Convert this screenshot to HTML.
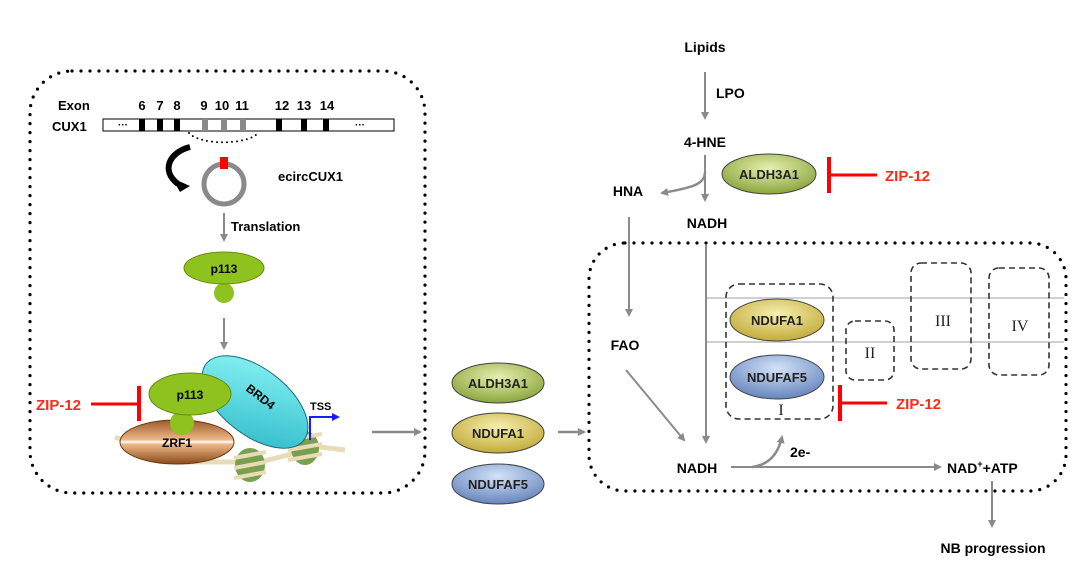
<!DOCTYPE html>
<html><head><meta charset="utf-8"><style>
html,body{margin:0;padding:0;background:#fff;}
svg{display:block;font-family:"Liberation Sans",Arial,sans-serif;font-weight:bold;}
</style></head><body>
<svg width="1080" height="562" viewBox="0 0 1080 562" xmlns="http://www.w3.org/2000/svg">
<defs>
<marker id="ag" markerWidth="8" markerHeight="8" refX="6" refY="4" orient="auto" markerUnits="userSpaceOnUse"><path d="M0,0 L8,4 L0,8 z" fill="#8a8a8a"/></marker>
<marker id="ab" markerWidth="8" markerHeight="8" refX="6" refY="4" orient="auto" markerUnits="userSpaceOnUse"><path d="M0,0 L8,4 L0,8 z" fill="#1a1aff"/></marker>
<radialGradient id="gGreen" cx="50%" cy="35%" r="65%"><stop offset="0" stop-color="#e6efb0"/><stop offset="1" stop-color="#8aa53c"/></radialGradient>
<radialGradient id="gYel" cx="50%" cy="35%" r="65%"><stop offset="0" stop-color="#f6efb0"/><stop offset="1" stop-color="#c2ab3a"/></radialGradient>
<radialGradient id="gBlue" cx="50%" cy="30%" r="70%"><stop offset="0" stop-color="#d2e2f8"/><stop offset="1" stop-color="#6685bd"/></radialGradient>
<linearGradient id="gBrd" x1="0" y1="0" x2="1" y2="1"><stop offset="0" stop-color="#8ff7f7"/><stop offset="1" stop-color="#2ab8c8"/></linearGradient>
<linearGradient id="gZrf" x1="0" y1="0" x2="0" y2="1"><stop offset="0" stop-color="#9a5a2a"/><stop offset="0.45" stop-color="#f0b888"/><stop offset="0.5" stop-color="#fff"/><stop offset="0.55" stop-color="#f0b888"/><stop offset="1" stop-color="#8a4a1a"/></linearGradient>
</defs>

<rect x="30" y="71" width="395" height="422" rx="42" fill="none" stroke="#000" stroke-width="3.2" stroke-linecap="round" stroke-dasharray="0 9"/>

<text x="58" y="110" font-size="13">Exon</text>
<text x="52" y="131" font-size="13">CUX1</text>
<g font-size="13" text-anchor="middle">
<text x="142" y="110">6</text><text x="160" y="110">7</text><text x="177" y="110">8</text>
<text x="204" y="110">9</text><text x="222" y="110">10</text><text x="242" y="110">11</text>
<text x="282" y="110">12</text><text x="304" y="110">13</text><text x="327" y="110">14</text>
</g>
<rect x="103" y="119" width="291" height="12" fill="#fff" stroke="#000" stroke-width="1"/>
<g fill="#000"><rect x="139" y="119" width="6" height="12"/><rect x="157" y="119" width="6" height="12"/><rect x="174" y="119" width="6" height="12"/><rect x="276" y="119" width="6" height="12"/><rect x="301" y="119" width="6" height="12"/><rect x="323" y="119" width="6" height="12"/></g>
<g fill="#8a8a8a"><rect x="202" y="119" width="6" height="12"/><rect x="221" y="119" width="6" height="12"/><rect x="240" y="119" width="6" height="12"/></g>
<text x="118" y="128" font-size="10">···</text><text x="355" y="128" font-size="10">···</text>
<path d="M189,133 A36,13 0 0 0 258,133" fill="none" stroke="#000" stroke-width="2" stroke-linecap="round" stroke-dasharray="0 5"/>
<path d="M190,147 C170,152 160,170 178,184" fill="none" stroke="#000" stroke-width="6"/>
<path d="M172,178 L190,186 L180,192 z" fill="#000"/>
<circle cx="224" cy="184" r="20" fill="none" stroke="#8a8a8a" stroke-width="5"/>
<rect x="220" y="157" width="8" height="12" fill="#ff0000"/>
<text x="278" y="181" font-size="13">ecircCUX1</text>
<line x1="224" y1="213" x2="224" y2="240" stroke="#8a8a8a" stroke-width="2" marker-end="url(#ag)"/>
<text x="231" y="231" font-size="13">Translation</text>
<circle cx="224" cy="293" r="10" fill="#8dc21f"/>
<ellipse cx="224" cy="268" rx="40" ry="16" fill="#8dc21f" stroke="#6a8a10" stroke-width="1"/>
<text x="224" y="273" font-size="12" text-anchor="middle">p113</text>
<line x1="224" y1="318" x2="224" y2="348" stroke="#8a8a8a" stroke-width="2" marker-end="url(#ag)"/>

<path d="M115,437 C140,445 150,462 180,462 L260,462 L320,447 L345,450" fill="none" stroke="#e8dcb8" stroke-width="5"/>
<ellipse cx="250" cy="465" rx="15" ry="17" fill="#79a04f"/>
<ellipse cx="305" cy="448" rx="14" ry="17" fill="#79a04f"/>
<g stroke="#e8dcb8" stroke-width="4"><line x1="234" y1="458" x2="266" y2="452"/><line x1="234" y1="468" x2="266" y2="462"/><line x1="234" y1="478" x2="266" y2="472"/><line x1="288" y1="440" x2="322" y2="434"/><line x1="288" y1="450" x2="322" y2="444"/><line x1="288" y1="460" x2="322" y2="454"/></g>
<ellipse cx="177" cy="442" rx="57" ry="22" fill="url(#gZrf)" stroke="#6a3a10" stroke-width="1"/>
<text x="177" y="447" font-size="12" text-anchor="middle">ZRF1</text>
<ellipse cx="255" cy="402" rx="62" ry="33" transform="rotate(38 255 402)" fill="url(#gBrd)" stroke="#1a6a7a" stroke-width="1"/>
<text x="258" y="400" font-size="12" text-anchor="middle" transform="rotate(38 258 400)">BRD4</text>
<circle cx="182" cy="423" r="12" fill="#8dc21f"/>
<ellipse cx="190" cy="394" rx="41" ry="21" fill="#8dc21f" stroke="#6a8a10" stroke-width="1"/>
<text x="190" y="399" font-size="12" text-anchor="middle">p113</text>
<path d="M310,440 L310,417 L338,417" fill="none" stroke="#1a1aff" stroke-width="2" marker-end="url(#ab)"/>
<text x="310" y="410" font-size="11">TSS</text>
<text x="36" y="410" font-size="15" fill="#ff2a1a">ZIP-12</text>
<line x1="91" y1="404" x2="139" y2="404" stroke="#ff0000" stroke-width="3"/>
<line x1="139" y1="386" x2="139" y2="421" stroke="#ff0000" stroke-width="4"/>

<line x1="372" y1="432" x2="420" y2="432" stroke="#8a8a8a" stroke-width="2.5" marker-end="url(#ag)"/>

<ellipse cx="498" cy="383" rx="46" ry="20" fill="url(#gGreen)" stroke="#444" stroke-width="1"/>
<text x="498" y="388" font-size="13" text-anchor="middle" fill="#222">ALDH3A1</text>
<ellipse cx="498" cy="433" rx="46" ry="20" fill="url(#gYel)" stroke="#444" stroke-width="1"/>
<text x="498" y="438" font-size="13" text-anchor="middle" fill="#222">NDUFA1</text>
<ellipse cx="498" cy="484" rx="46" ry="20" fill="url(#gBlue)" stroke="#444" stroke-width="1"/>
<text x="498" y="489" font-size="13" text-anchor="middle" fill="#222">NDUFAF5</text>
<line x1="558" y1="432" x2="584" y2="432" stroke="#8a8a8a" stroke-width="2.5" marker-end="url(#ag)"/>

<rect x="589" y="243" width="477" height="248" rx="36" fill="none" stroke="#000" stroke-width="3.2" stroke-linecap="round" stroke-dasharray="0 9"/>

<text x="705" y="52" font-size="14" text-anchor="middle">Lipids</text>
<line x1="705" y1="72" x2="705" y2="118" stroke="#8a8a8a" stroke-width="2" marker-end="url(#ag)"/>
<text x="716" y="98" font-size="14">LPO</text>
<text x="705" y="147" font-size="14" text-anchor="middle">4-HNE</text>
<line x1="705" y1="155" x2="705" y2="200" stroke="#8a8a8a" stroke-width="2" marker-end="url(#ag)"/>
<path d="M705,172 C705,185 690,188 662,193" fill="none" stroke="#8a8a8a" stroke-width="2.5" marker-end="url(#ag)"/>
<text x="628" y="196" font-size="14" text-anchor="middle">HNA</text>
<text x="707" y="228" font-size="14" text-anchor="middle">NADH</text>
<ellipse cx="769" cy="174" rx="47" ry="20" fill="url(#gGreen)" stroke="#444" stroke-width="1"/>
<text x="769" y="179" font-size="13" text-anchor="middle" fill="#222">ALDH3A1</text>
<line x1="829" y1="157" x2="829" y2="193" stroke="#ff0000" stroke-width="4"/>
<line x1="829" y1="175" x2="877" y2="175" stroke="#ff0000" stroke-width="3"/>
<text x="885" y="181" font-size="15" fill="#ff2a1a">ZIP-12</text>

<line x1="629" y1="217" x2="629" y2="315" stroke="#8a8a8a" stroke-width="2" marker-end="url(#ag)"/>
<text x="625" y="350" font-size="14" text-anchor="middle">FAO</text>
<line x1="626" y1="370" x2="684" y2="440" stroke="#8a8a8a" stroke-width="2" marker-end="url(#ag)"/>
<line x1="706" y1="245" x2="706" y2="442" stroke="#8a8a8a" stroke-width="2" marker-end="url(#ag)"/>
<line x1="707" y1="298" x2="1064" y2="298" stroke="#d0d0d0" stroke-width="2"/>
<line x1="707" y1="342" x2="1064" y2="342" stroke="#d0d0d0" stroke-width="2"/>

<text x="697" y="473" font-size="14" text-anchor="middle">NADH</text>
<line x1="731" y1="467" x2="940" y2="467" stroke="#8a8a8a" stroke-width="2" marker-end="url(#ag)"/>
<path d="M752,467 C768,465 778,455 782,437" fill="none" stroke="#8a8a8a" stroke-width="2.5" marker-end="url(#ag)"/>
<text x="790" y="457" font-size="14">2e-</text>
<text x="947" y="473" font-size="14">NAD<tspan font-size="9" dy="-6">+</tspan><tspan dy="6">+ATP</tspan></text>
<line x1="992" y1="481" x2="992" y2="526" stroke="#8a8a8a" stroke-width="2" marker-end="url(#ag)"/>
<text x="993" y="553" font-size="14" text-anchor="middle">NB progression</text>

<g fill="none" stroke="#333" stroke-width="1.6" stroke-dasharray="6 4">
<rect x="726" y="284" width="107" height="135" rx="13"/>
<rect x="846" y="321" width="48" height="59" rx="9"/>
<rect x="911" y="263" width="60" height="106" rx="10"/>
<rect x="989" y="268" width="60" height="107" rx="10"/>
</g>
<ellipse cx="777" cy="320" rx="47" ry="21" fill="url(#gYel)" stroke="#444" stroke-width="1"/>
<text x="777" y="325" font-size="13" text-anchor="middle" fill="#222">NDUFA1</text>
<ellipse cx="777" cy="377" rx="47" ry="22" fill="url(#gBlue)" stroke="#444" stroke-width="1"/>
<text x="777" y="382" font-size="13" text-anchor="middle" fill="#222">NDUFAF5</text>
<g font-family="Liberation Serif,serif" font-weight="normal" font-size="16" text-anchor="middle" fill="#222">
<text x="781" y="415">I</text><text x="870" y="358">II</text><text x="943" y="326">III</text><text x="1020" y="331">IV</text>
</g>
<line x1="840" y1="385" x2="840" y2="421" stroke="#ff0000" stroke-width="4"/>
<line x1="840" y1="403" x2="887" y2="403" stroke="#ff0000" stroke-width="3"/>
<text x="896" y="409" font-size="15" fill="#ff2a1a">ZIP-12</text>
</svg>
</body></html>
